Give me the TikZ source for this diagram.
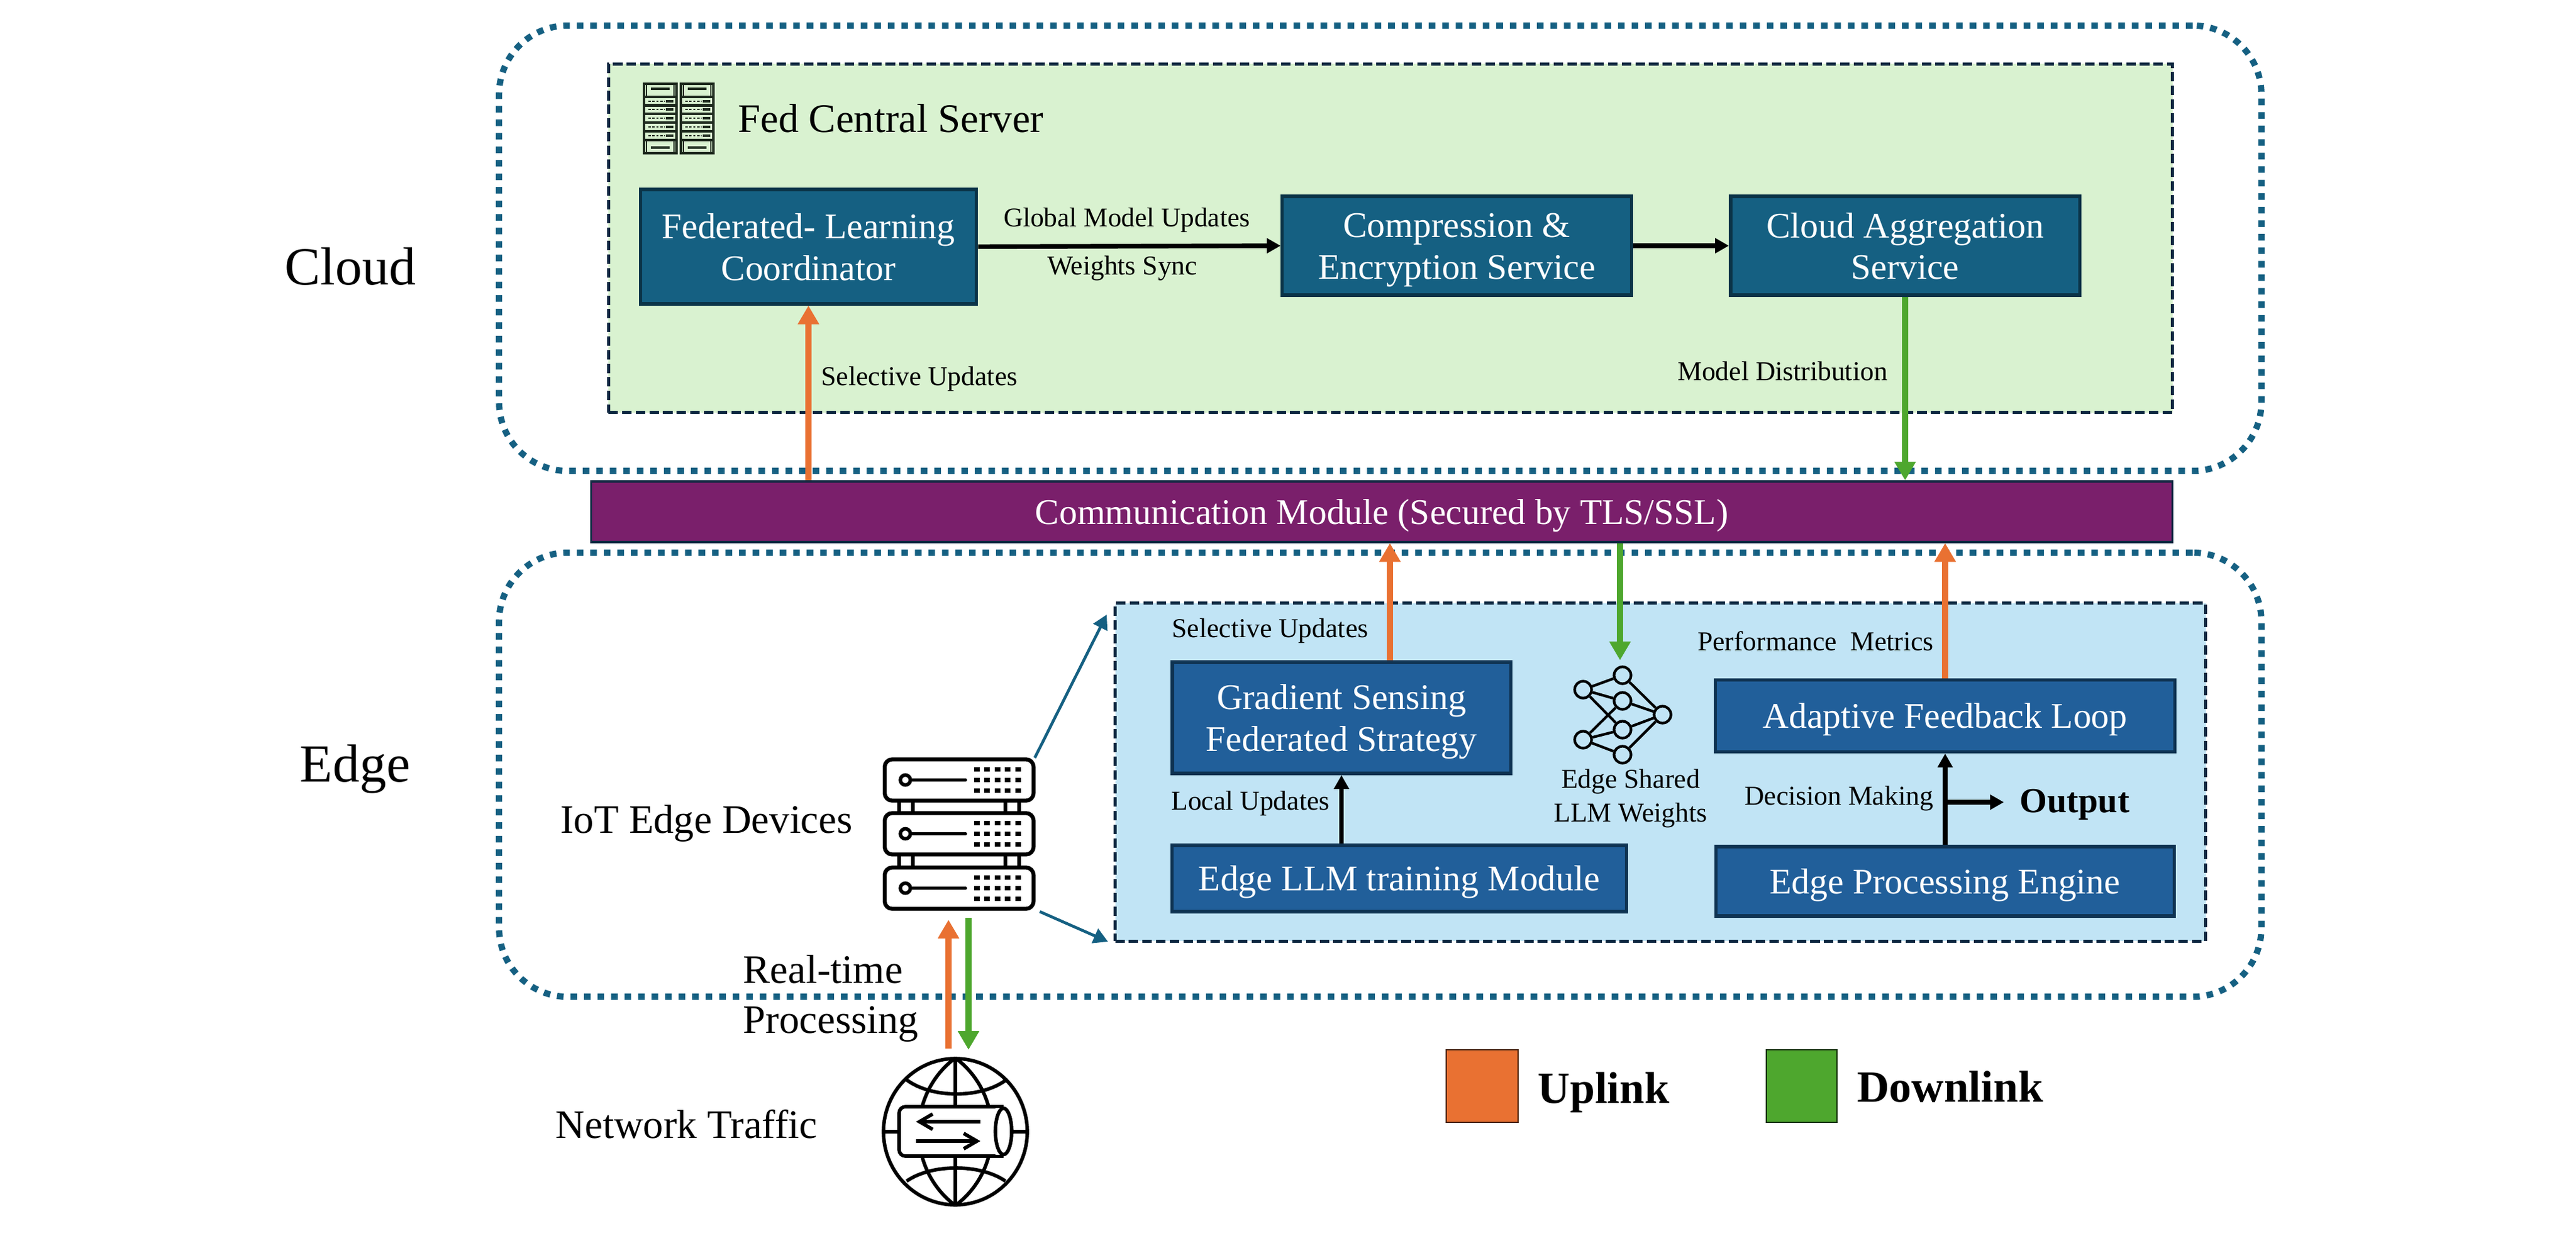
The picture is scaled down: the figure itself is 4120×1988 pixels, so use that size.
\documentclass[tikz,border=0pt]{standalone}
\usepackage{fontspec}
\setmainfont{Liberation Serif}
\usetikzlibrary{arrows.meta,calc}
\definecolor{teal1}{HTML}{156082}
\definecolor{tealdark}{HTML}{0B3448}
\definecolor{blue2}{HTML}{215F9A}
\definecolor{bluedark}{HTML}{0F3352}
\definecolor{navy}{HTML}{0E2841}
\definecolor{upc}{HTML}{E97132}
\definecolor{downc}{HTML}{4EA72E}
\definecolor{purp}{HTML}{7A1F6B}
\definecolor{greenbg}{HTML}{D9F2D0}
\definecolor{bluebg}{HTML}{C1E4F5}
\definecolor{rackc}{HTML}{1E2A1E}
\newcommand{\topup}{\rule{0pt}{15pt}}
\tikzset{
  x=0.01cm,y=-0.01cm,
  zone/.style={draw=teal1,line width=2.85pt,dash pattern=on 3pt off 3.15pt,rounded corners=1.1cm,inner sep=0pt},
  panel/.style={draw=navy,line width=1.4pt,dash pattern=on 4.3pt off 1.9pt,inner sep=0pt},
  boxtext/.style={inner sep=0pt,align=center,font=\fontsize{16.4}{19}\selectfont,
    execute at begin node={\rule{0pt}{14.7pt}},execute at end node={\rule[-3.3pt]{0pt}{3.3pt}}},
  tealbox/.style={boxtext,draw=tealdark,line width=1.5pt,fill=teal1,text=white},
  bluebox/.style={boxtext,draw=bluedark,line width=1.5pt,fill=blue2,text=white},
  small/.style={inner sep=0pt,font=\fontsize{12.4}{15.6}\selectfont,align=center},
  big/.style={inner sep=0pt,font=\fontsize{18.4}{22.5}\selectfont,align=left},
  zonelabel/.style={inner sep=0pt,font=\fontsize{24.4}{28}\selectfont},
  legendtxt/.style={inner sep=0pt,font=\fontsize{20.3}{24}\selectfont\bfseries},
  uparrow/.style={draw=upc,line width=2.9pt,-{Triangle[length=8.5pt,width=9.2pt]}},
  downarrow/.style={draw=downc,line width=2.9pt,-{Triangle[length=8.5pt,width=9.2pt]}},
  blackarrow/.style={draw=black,line width=2.1pt,-{Triangle[length=6.3pt,width=6.6pt]}},
  tealarrow/.style={draw=teal1,line width=1.3pt,-{Triangle[length=6.5pt,width=7pt]}},
  ico/.style={draw=black,line width=1.6pt},
  nn/.style={circle,draw=black,line width=1.2pt,minimum size=0.27cm,inner sep=0pt,fill=bluebg},
}
\begin{document}
\begin{tikzpicture}
\path[use as bounding box,fill=white] (0,0) rectangle (4120,1988);

% zones
\node[zone,minimum width=28.17cm,minimum height=7.12cm] (cloudzone) at (2207.5,397) {};
\node[zone,minimum width=28.17cm,minimum height=7.1cm] (edgezone) at (2207.5,1239) {};

% panels
\node[panel,fill=greenbg,minimum width=25.0cm,minimum height=5.57cm] (greenpanel) at (2224,381) {};
\node[panel,fill=bluebg,minimum width=17.43cm,minimum height=5.40cm] (bluepanel) at (2655.5,1235) {};

% communication bar
\node[boxtext,draw=navy,line width=0.9pt,fill=purp,text=white,minimum width=25.28cm,minimum height=0.97cm] (comm) at (2210,818.5) {Communication Module (Secured by TLS/SSL)};

% boxes
\node[tealbox,minimum width=5.37cm,minimum height=1.83cm] (fl) at (1293,394.5) {\topup Federated- Learning\\Coordinator};
\node[tealbox,minimum width=5.58cm,minimum height=1.58cm] (comp) at (2330,393) {\topup Compression \&\\Encryption Service};
\node[tealbox,minimum width=5.58cm,minimum height=1.58cm] (agg) at (3047,393) {\topup Cloud Aggregation\\Service};
\node[bluebox,minimum width=5.41cm,minimum height=1.78cm] (grad) at (2145.5,1148) {\topup Gradient Sensing\\Federated Strategy};
\node[bluebox,minimum width=7.26cm,minimum height=1.06cm] (train) at (2238,1405) {Edge LLM training Module};
\node[bluebox,minimum width=7.34cm,minimum height=1.15cm] (adapt) at (3111,1145) {Adaptive Feedback Loop};
\node[bluebox,minimum width=7.33cm,minimum height=1.11cm] (proc) at (3111,1409.5) {Edge Processing Engine};

% labels
\node[zonelabel] (cloudlbl) at (560,426) {Cloud};
\node[zonelabel] (edgelbl) at (568,1230) {Edge};
\node[big,anchor=west] (fedlbl) at (1180,189) {Fed Central Server};
\node[big] (iotlbl) at (1130,1317) {IoT Edge Devices};
\node[big,anchor=west] (rtlbl) at (1188,1597) {Real-time\\Processing};
\node[big] (nettxt) at (1098,1798) {Network Traffic};
\node[small,font=\fontsize{12.3}{15.6}\selectfont] (gmu) at (1802,352) {Global Model Updates};
\node[small] (ws) at (1795,429) {Weights Sync};
\node[small,anchor=west] (su1) at (1313,606) {Selective Updates};
\node[small] (md) at (2851,594) {Model Distribution};
\node[small,anchor=west] (su2) at (1874,1009) {Selective Updates};
\node[small] (pm) at (2904,1025) {Performance\ \ Metrics};
\node[small] (lu) at (2000,1285) {Local Updates};
\node[small] (dm) at (2941,1277) {Decision Making};
\node[small] (eslw) at (2608,1277) {Edge Shared\\LLM Weights};
\node[inner sep=0pt,font=\fontsize{16}{19}\selectfont\bfseries,anchor=west] (outp) at (3230,1287) {Output};

% legend
\node[draw=black!70!upc,line width=0.8pt,fill=upc,minimum width=1.15cm,minimum height=1.16cm,inner sep=0pt] (lgup) at (2370.5,1737) {};
\node[draw=black!70!downc,line width=0.8pt,fill=downc,minimum width=1.13cm,minimum height=1.16cm,inner sep=0pt] (lgdn) at (2881.5,1737) {};
\node[legendtxt] (lgupt) at (2565,1747) {Uplink};
\node[legendtxt] (lgdnt) at (3119,1738) {Downlink};

% connector helper coordinates
\coordinate (upB) at (2223,0);
\coordinate (dnB) at (2591,0);
\coordinate (dnBtip) at (2591,1056);
\coordinate (branch) at (3111,1283);
\coordinate (srvUpTip) at (1770,983);
\coordinate (srvUpStart) at (1655,1212);
\coordinate (srvLoStart) at (1663,1458);
\coordinate (srvLoTip) at (1772,1506);

% arrows
\draw[blackarrow] (fl.east) -- (comp.west);
\draw[blackarrow] (comp.east) -- (agg.west);
\draw[uparrow] (comm.north -| fl.south) -- (fl.south);
\draw[downarrow] (agg.south) -- (comm.north -| agg.south);
\draw[uparrow] (grad.north -| upB) -- (comm.south -| upB);
\draw[downarrow] (comm.south -| dnB) -- (dnBtip);
\draw[uparrow] (adapt.north) -- (comm.south -| adapt.north);
\draw[blackarrow] (train.north -| grad.south) -- (grad.south);
\draw[blackarrow] (proc.north) -- (adapt.south);
\draw[blackarrow,shorten >=0.25cm] (branch) -- (outp.west |- branch);

% server icon
\begin{scope}
  \foreach \xa in {1438,1460,1608,1630}{
    \draw[ico] (\xa,1280) -- (\xa,1302);
    \draw[ico] (\xa,1365) -- (\xa,1388);
  }
  \foreach \nm/\cy in {srva/1247.5,srvb/1333.5,srvc/1420.5}{
    \node[draw=black,line width=1.8pt,fill=white,rounded corners=0.12cm,minimum width=2.38cm,minimum height=0.66cm,inner sep=0pt] (\nm) at (1534,\cy) {};
    \draw[ico] (1448,\cy) circle[radius=8];
    \draw[ico,line cap=round] (1456,\cy) -- (1544,\cy);
    \foreach \dx in {1562,1578.6,1595.2,1611.8,1628.4}{
      \foreach \dy in {-17,0,17}{
        \fill[black] (\dx-4.5,\cy+\dy-3.5) rectangle (\dx+4.5,\cy+\dy+3.5);
      }
    }
  }
\end{scope}

% arrows from the server to the panel
\draw[tealarrow] (srvUpStart) -- (srvUpTip);
\draw[tealarrow] (srvLoStart) -- (srvLoTip);

% server to network traffic
\coordinate (rtUpTop) at (1517,1471);
\coordinate (rtUpBot) at (1517,1677);
\coordinate (rtDnTop) at (1549,1468);
\coordinate (rtDnBot) at (1549,1679);
\draw[uparrow] (rtUpBot) -- (rtUpTop);
\draw[downarrow] (rtDnTop) -- (rtDnBot);

% globe icon
\begin{scope}
  \draw[ico] (1528,1810) ellipse[x radius=115,y radius=117];
  \draw[ico] (1528,1692) -- (1528,1928);
  \draw[ico] (1528,1692) .. controls (1450,1750) and (1450,1870) .. (1528,1928);
  \draw[ico] (1528,1692) .. controls (1606,1750) and (1606,1870) .. (1528,1928);
  \draw[ico] (1450,1727) .. controls (1490,1757) and (1568,1757) .. (1608,1728);
  \draw[ico] (1450,1889) .. controls (1490,1861) and (1568,1861) .. (1608,1889);
  \draw[ico] (1413,1810) -- (1643,1810);
  \draw[ico,fill=white,rounded corners=0.1cm] (1605,1770) -- (1438,1770) -- (1438,1849) -- (1605,1849);
  \fill[white] (1592,1772) rectangle (1606,1847);
  \draw[ico,fill=white] (1605,1809.5) ellipse[x radius=13,y radius=37];
  \draw[ico,-{Straight Barb[length=6pt,width=7pt]}] (1568,1794) -- (1465,1794);
  \draw[ico,-{Straight Barb[length=6pt,width=7pt]}] (1465,1825) -- (1568,1825);
\end{scope}

% neural network icon
\node[nn] (n1) at (2532,1103) {};
\node[nn] (n2) at (2532,1183) {};
\node[nn] (h1) at (2595,1080) {};
\node[nn] (h2) at (2595,1121) {};
\node[nn] (h3) at (2595,1167) {};
\node[nn] (h4) at (2595,1207) {};
\node[nn] (o1) at (2659,1143) {};
\foreach \a/\b in {n1/h1,n1/h2,n1/h3,n2/h2,n2/h3,n2/h4,h1/o1,h2/o1,h3/o1,h4/o1}{
  \draw[draw=black,line width=1.2pt] (\a) -- (\b);
}

% rack icon
\begin{scope}
  \foreach \xl in {1030,1089}{
    \draw[draw=rackc,line width=1.2pt,fill=greenbg] (\xl,134) rectangle (\xl+52,245);
    \draw[draw=rackc,line width=1pt] (\xl+11,142) -- (\xl+41,142);
    \draw[draw=rackc,line width=1pt] (\xl+11,236) -- (\xl+41,236);
    \draw[draw=rackc,line width=0.8pt] (\xl+4,136) -- (\xl+4,153);
    \draw[draw=rackc,line width=0.8pt] (\xl+48,136) -- (\xl+48,153);
    \draw[draw=rackc,line width=0.8pt] (\xl+4,226) -- (\xl+4,243);
    \draw[draw=rackc,line width=0.8pt] (\xl+48,226) -- (\xl+48,243);
    \foreach \ry in {155,168.5,182,196,210,224}{
      \draw[draw=rackc,line width=1.2pt] (\xl,\ry) -- (\xl+52,\ry);
    }
    \foreach \ry in {162,175,189,203,217}{
      \draw[draw=rackc,line width=0.7pt,dash pattern=on 1pt off 0.8pt] (\xl+7,\ry) -- (\xl+33,\ry);
      \draw[draw=rackc,line width=1pt] (\xl+35,\ry) -- (\xl+47,\ry);
    }
  }
\end{scope}
\end{tikzpicture}
\end{document}
